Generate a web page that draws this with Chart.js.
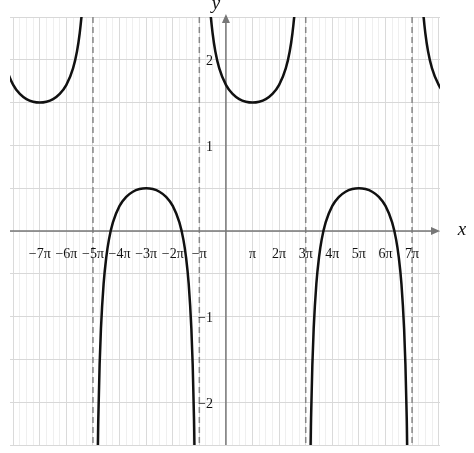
<!DOCTYPE html>
<html>
<head>
<meta charset="utf-8">
<script src="https://cdn.jsdelivr.net/npm/chart.js@4"></script>
<style>
  html, body { margin: 0; padding: 0; background: #fff; }
  #wrap { width: 474px; height: 453px; }
</style>
</head>
<body>
<div id="wrap"><canvas id="c"></canvas></div>
<script>
// x values are in units of pi; every branch shares the same y profile
const upperY = [7.37, 5.255, 4.197, 3.563, 3.142, 2.618, 2.307, 2.101, 1.9, 1.707, 1.601, 1.541, 1.51, 1.5, 1.51, 1.541, 1.601, 1.707, 1.9, 2.101, 2.307, 2.618, 3.142, 3.563, 4.197, 5.255, 7.37];
const lowerY = [-5.37, -3.255, -2.197, -1.563, -1.142, -0.618, -0.307, -0.101, 0.1, 0.293, 0.399, 0.459, 0.49, 0.5, 0.49, 0.459, 0.399, 0.293, 0.1, -0.101, -0.307, -0.618, -1.142, -1.563, -2.197, -3.255, -5.37];
const upperLeftX = [-8.9, -8.85, -8.8, -8.75, -8.7, -8.6, -8.5, -8.4, -8.25, -8, -7.75, -7.5, -7.25, -7, -6.75, -6.5, -6.25, -6, -5.75, -5.6, -5.5, -5.4, -5.3, -5.25, -5.2, -5.15, -5.1];
const upperMidX = [-0.9, -0.85, -0.8, -0.75, -0.7, -0.6, -0.5, -0.4, -0.25, 0, 0.25, 0.5, 0.75, 1, 1.25, 1.5, 1.75, 2, 2.25, 2.4, 2.5, 2.6, 2.7, 2.75, 2.8, 2.85, 2.9];
const upperRightX = [7.1, 7.15, 7.2, 7.25, 7.3, 7.4, 7.5, 7.6, 7.75, 8, 8.25, 8.5, 8.75, 9, 9.25, 9.5, 9.75, 10, 10.25, 10.4, 10.5, 10.6, 10.7, 10.75, 10.8, 10.85, 10.9];
const lowerLeftX = [-4.9, -4.85, -4.8, -4.75, -4.7, -4.6, -4.5, -4.4, -4.25, -4, -3.75, -3.5, -3.25, -3, -2.75, -2.5, -2.25, -2, -1.75, -1.6, -1.5, -1.4, -1.3, -1.25, -1.2, -1.15, -1.1];
const lowerRightX = [3.1, 3.15, 3.2, 3.25, 3.3, 3.4, 3.5, 3.6, 3.75, 4, 4.25, 4.5, 4.75, 5, 5.25, 5.5, 5.75, 6, 6.25, 6.4, 6.5, 6.6, 6.7, 6.75, 6.8, 6.85, 6.9];
const asymptotes = [-5, -1, 3, 7];
const xTickValues = [-7, -6, -5, -4, -3, -2, -1, 1, 2, 3, 4, 5, 6, 7];
const xTickLabels = ['\u22127\u03c0', '\u22126\u03c0', '\u22125\u03c0', '\u22124\u03c0', '\u22123\u03c0', '\u22122\u03c0', '\u2212\u03c0', '\u03c0', '2\u03c0', '3\u03c0', '4\u03c0', '5\u03c0', '6\u03c0', '7\u03c0'];
const yTickValues = [-2, -1, 1, 2];
const yTickLabels = ['\u22122', '\u22121', '1', '2'];

function curve(xs, ys) {
  return {
    data: xs.map((x, i) => ({ x: x, y: ys[i] })),
    showLine: true, borderColor: '#111', borderWidth: 2.5, pointRadius: 0,
    cubicInterpolationMode: 'monotone', fill: false
  };
}

const axesPlugin = {
  id: 'axesPlugin',
  beforeDatasetsDraw(chart) {
    const { ctx, chartArea: a, scales: { x, y } } = chart;
    ctx.save();
    ctx.strokeStyle = '#888';
    ctx.lineWidth = 1.5;
    ctx.setLineDash([6, 4]);
    asymptotes.forEach(v => {
      const px = x.getPixelForValue(v);
      ctx.beginPath(); ctx.moveTo(px, a.top); ctx.lineTo(px, a.bottom); ctx.stroke();
    });
    ctx.setLineDash([]);
    const ox = x.getPixelForValue(0), oy = y.getPixelForValue(0);
    ctx.strokeStyle = '#777';
    ctx.fillStyle = '#777';
    ctx.beginPath(); ctx.moveTo(a.left, oy); ctx.lineTo(a.right - 2, oy); ctx.stroke();
    ctx.beginPath(); ctx.moveTo(ox, a.bottom); ctx.lineTo(ox, a.top - 1); ctx.stroke();
    ctx.beginPath(); ctx.moveTo(a.right, oy); ctx.lineTo(a.right - 9, oy - 4); ctx.lineTo(a.right - 9, oy + 4); ctx.fill();
    ctx.beginPath(); ctx.moveTo(ox, a.top - 3); ctx.lineTo(ox - 4, a.top + 6); ctx.lineTo(ox + 4, a.top + 6); ctx.fill();
    ctx.restore();
  },
  afterDatasetsDraw(chart) {
    const { ctx, chartArea: a, scales: { x, y } } = chart;
    const ox = x.getPixelForValue(0), oy = y.getPixelForValue(0);
    ctx.save();
    ctx.fillStyle = '#111';
    ctx.font = '14px "Liberation Serif", serif';
    ctx.textAlign = 'center';
    ctx.textBaseline = 'middle';
    xTickValues.forEach((v, i) => {
      ctx.fillText(xTickLabels[i], x.getPixelForValue(v), oy + 23);
    });
    ctx.textAlign = 'right';
    yTickValues.forEach((v, i) => {
      ctx.fillText(yTickLabels[i], ox - 13, y.getPixelForValue(v) + 2);
    });
    ctx.font = 'italic 19px "Liberation Serif", serif';
    ctx.textAlign = 'center';
    ctx.fillText('x', a.right + 22, oy - 1);
    ctx.fillText('y', ox - 10, a.top - 13);
    ctx.restore();
  }
};

new Chart(document.getElementById('c'), {
  type: 'scatter',
  data: {
    datasets: [
      curve(upperLeftX, upperY),
      curve(upperMidX, upperY),
      curve(upperRightX, upperY),
      curve(lowerLeftX, lowerY),
      curve(lowerRightX, lowerY)
    ]
  },
  options: {
    responsive: true,
    maintainAspectRatio: false,
    animation: false,
    layout: { padding: { left: 10, right: 34, top: 17, bottom: 8 } },
    plugins: { legend: { display: false }, tooltip: { enabled: false } },
    scales: {
      x: {
        type: 'linear', min: -8.12, max: 8.05,
        afterBuildTicks(s) { const t = []; for (let k = -32; k <= 32; k++) t.push({ value: k / 4 }); s.ticks = t; },
        ticks: { display: false },
        border: { display: false },
        grid: { drawTicks: false, lineWidth: 1, color: c => (Number.isInteger(c.tick.value) ? '#dadada' : '#efefef') }
      },
      y: {
        type: 'linear', min: -2.5, max: 2.5,
        ticks: { display: false, stepSize: 0.5 },
        border: { display: false },
        grid: { drawTicks: false, lineWidth: 1, color: '#d8d8d8' }
      }
    }
  },
  plugins: [axesPlugin]
});
</script>
</body>
</html>
